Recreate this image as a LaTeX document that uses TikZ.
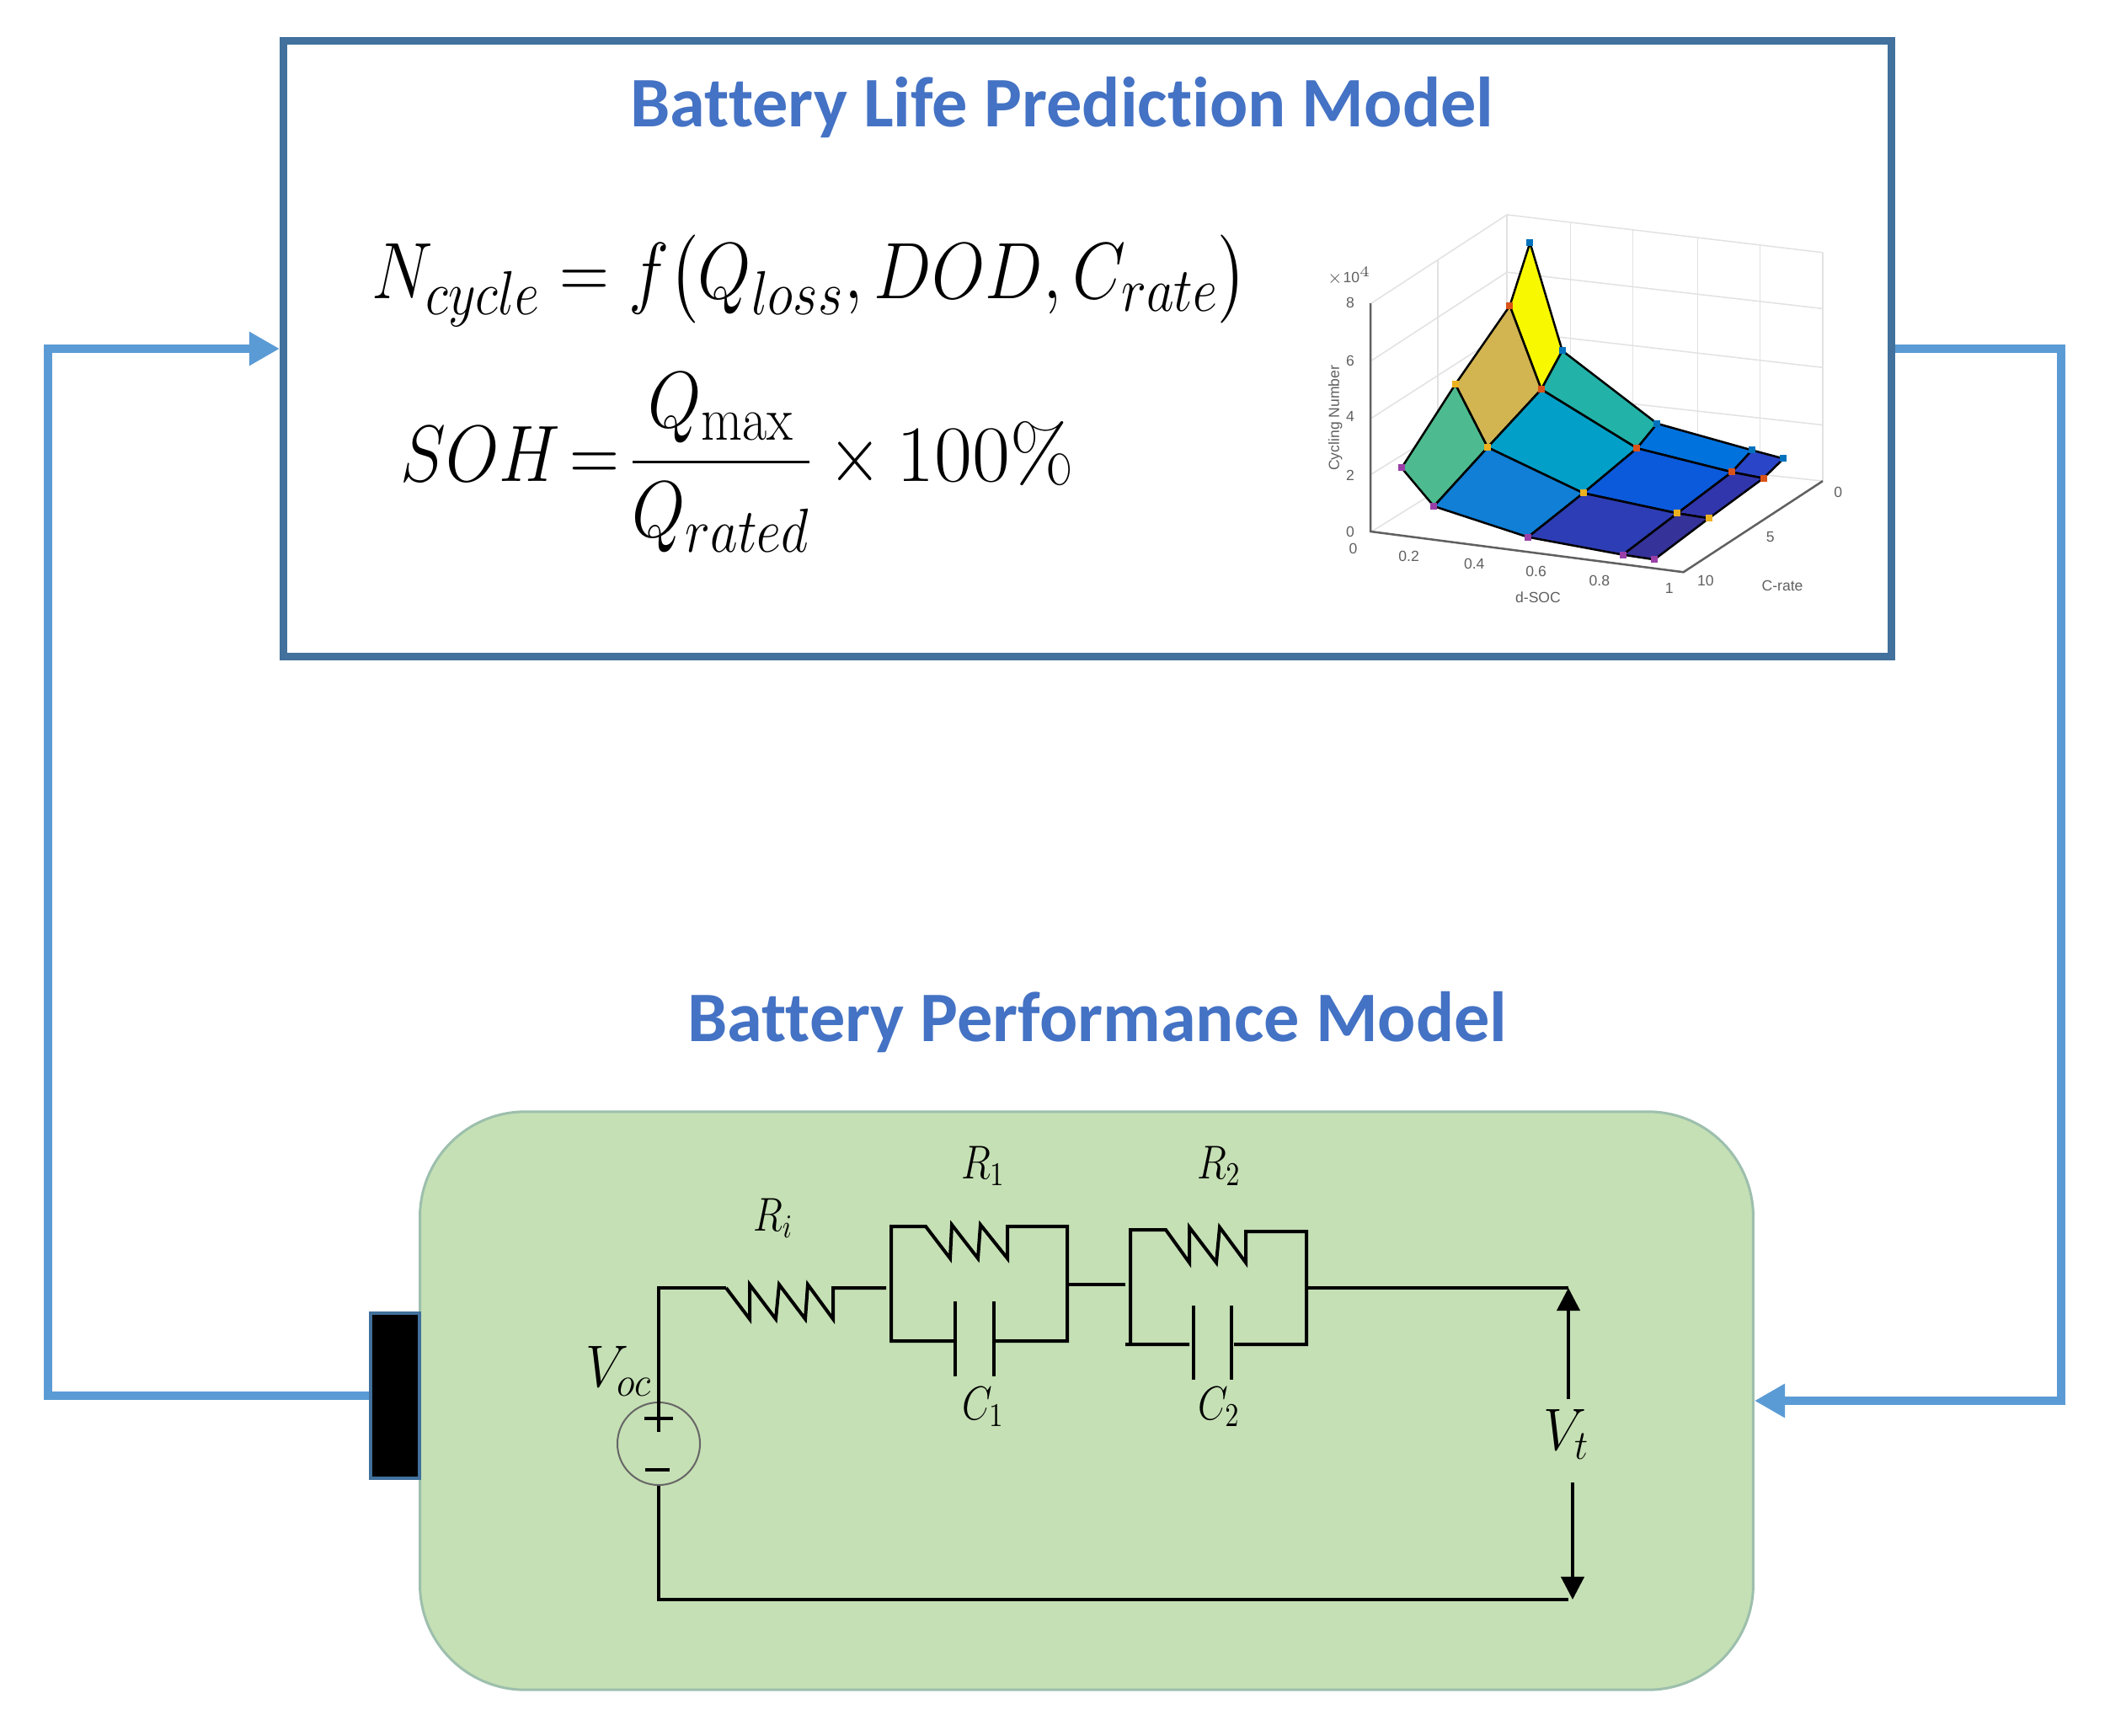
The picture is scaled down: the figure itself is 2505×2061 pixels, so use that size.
\documentclass[tikz,border=0pt]{standalone}
\usepackage{fix-cm}
\usepackage{amsmath}
\usepackage{fontspec}
\usetikzlibrary{positioning,arrows.meta}
\newfontfamily\titlefont[Ligatures=NoCommon]{Carlito}
\newfontfamily\plotfont{Liberation Sans}
\DeclareMathSizes{27}{27}{21}{16}
\definecolor{linkblue}{HTML}{5B9BD5}
\definecolor{edgeblue}{HTML}{41719C}
\definecolor{titleblue}{HTML}{4472C4}
\definecolor{cellgreen}{HTML}{C5E0B4}
\definecolor{gridgray}{HTML}{E2E2E2}
\definecolor{axisgray}{HTML}{606060}
\definecolor{fya}{HTML}{F8F800}
\definecolor{fyb}{HTML}{22B2A8}
\definecolor{fyc}{HTML}{0072DD}
\definecolor{fyd}{HTML}{2B45C8}
\definecolor{fma}{HTML}{D2B450}
\definecolor{fmb}{HTML}{02A0C8}
\definecolor{fmc}{HTML}{0B5ADC}
\definecolor{fmd}{HTML}{3236AC}
\definecolor{fla}{HTML}{4DBB8F}
\definecolor{flb}{HTML}{107FD5}
\definecolor{flc}{HTML}{2D3DB5}
\definecolor{fld}{HTML}{353299}
\definecolor{mkblue}{HTML}{0072BD}
\definecolor{mkred}{HTML}{D95319}
\definecolor{mkyellow}{HTML}{EDB120}
\definecolor{mkpurple}{HTML}{9A3FA8}
\tikzset{
    linkline/.style={line width=0.1cm, linkblue},
    linkarrow/.style={linkline, -{Triangle[length=0.36cm, width=0.38cm]}},
    wire/.style={line width=0.04cm, black},
    voltarrow/.style={wire, -{Triangle[length=0.27cm, width=0.27cm]}},
    modeltitle/.style={text=titleblue, font=\titlefont\bfseries\fontsize{24}{28}\selectfont},
    eqtext/.style={inner sep=0pt, anchor=base west, xscale=0.86, transform shape, font=\fontsize{27}{31}\selectfont},
    circlabel/.style={inner sep=0pt, xscale=0.82, transform shape, font=\fontsize{16}{19}\selectfont},
    voltlabel/.style={inner sep=0pt, xscale=0.92, transform shape, font=\fontsize{20}{24}\selectfont},
    plotlabel/.style={inner sep=0pt, text=axisgray, font=\plotfont\fontsize{5}{6}\selectfont}
}
\begin{document}
\begin{tikzpicture}[x=0.01cm, y=-0.01cm]
    \useasboundingbox (0, 0) rectangle (2505, 2061);

    % Model boxes
    \node[draw=edgeblue, line width=0.09cm, fill=white, minimum width=19.08cm, minimum height=7.30cm] (lifebox) at (1291, 414) {};
    \node[draw=edgeblue!30!cellgreen, line width=0.03cm, fill=cellgreen, rounded corners=1.25cm, minimum width=15.82cm, minimum height=6.86cm] (perfbox) at (1290, 1663) {};
    \node[draw=edgeblue, line width=0.04cm, fill=black, minimum width=0.58cm, minimum height=1.95cm] (batblock) at (469, 1657) {};

    \node[modeltitle] (lifetitle) at (1261, 128) {Battery Life Prediction Model};
    \node[modeltitle] (perftitle) at (1303, 1214) {Battery Performance Model};

    % Feedback loop
    \coordinate (leftbus) at (57, 1000);
    \coordinate (rightbus) at (2447, 1000);
    \draw[linkarrow] (batblock.west) -| (leftbus) |- (lifebox.west);
    \draw[linkarrow] (lifebox.east) -| (rightbus) |- (perfbox.east);

    % Equations
    \node[eqtext] (eqcycle) at (441, 355) {$N_{cycle}=f\bigl(Q_{loss},DOD,C_{rate}\bigr)$};
    \node[eqtext] (eqsoh) at (475, 572) {$SOH\mkern-2.5mu=\mkern-2.5mu\dfrac{Q_{\max}}{Q_{rated}}\times\scalebox{1.2}[1]{$100\%$}$};

    % Surface plot
    \begin{scope}[shift={(1500, 220)}, x=0.004785cm, y=-0.003333cm]
        % walls
        \foreach \a/\b/\c in {420/105/240, 625/310/440, 830/520/650, 1030/730/855, 1235/935/1055} {
            \draw[gridgray, line width=0.015cm] (268, \a) -- (603, \b) -- (1385, \c);
        }
        \foreach \x/\a/\b in {432/265/1090, 603/105/935, 760/135/960, 915/160/985, 1075/190/1005, 1230/215/1030, 1385/240/1055} {
            \draw[gridgray, line width=0.015cm] (\x, \a) -- (\x, \b);
        }
        % axes
        \coordinate (ztop) at (265, 420);
        \coordinate (zero) at (265, 1235);
        \coordinate (front) at (1040, 1380);
        \coordinate (rear) at (1385, 1055);
        \draw[axisgray, line width=0.025cm] (ztop) -- (zero) -- (front) -- (rear);
        % surface points
        \foreach \n/\x/\y in {a1/660/205, a2/740/590, a3/975/850, a4/1210/945, a5/1288/975,
                              b1/610/430, b2/688/728, b3/925/938, b4/1160/1023, b5/1238/1045,
                              c1/475/710, c2/555/935, c3/792/1098, c4/1025/1170, c5/1103/1188,
                              d1/342/1008, d2/422/1145, d3/655/1255, d4/890/1318, d5/968/1335} {
            \coordinate (\n) at (\x, \y);
        }
        % surface patches
        \foreach \p/\q/\r/\s/\f in {a1/a2/b2/b1/fya, a2/a3/b3/b2/fyb, a3/a4/b4/b3/fyc, a4/a5/b5/b4/fyd,
                                    b1/b2/c2/c1/fma, b2/b3/c3/c2/fmb, b3/b4/c4/c3/fmc, b4/b5/c5/c4/fmd,
                                    c1/c2/d2/d1/fla, c2/c3/d3/d2/flb, c3/c4/d4/d3/flc, c4/c5/d5/d4/fld} {
            \filldraw[fill=\f, draw=black, line width=0.025cm, line join=round] (\p) -- (\q) -- (\r) -- (\s) -- cycle;
        }
        % markers
        \foreach \n/\m in {a1/mkblue, a2/mkblue, a3/mkblue, a4/mkblue, a5/mkblue,
                           b1/mkred, b2/mkred, b3/mkred, b4/mkred, b5/mkred,
                           c1/mkyellow, c2/mkyellow, c3/mkyellow, c4/mkyellow, c5/mkyellow,
                           d1/mkpurple, d2/mkpurple, d3/mkpurple, d4/mkpurple, d5/mkpurple} {
            \node[fill=\m, inner sep=0pt, minimum size=0.08cm] (mk\n) at (\n) {};
        }
        % tick labels
        \foreach \n/\t/\x/\y in {z8/8/215/420, z6/6/215/625, z4/4/215/825, z2/2/215/1035, z0/0/215/1235,
                                 xa/0/222/1295, xb/0.2/360/1322, xc/0.4/522/1350, xd/0.6/675/1378, xe/0.8/832/1412, xf/1/1005/1438,
                                 ya/0/1423/1095, yb/5/1255/1255, yc/10/1095/1412} {
            \node[plotlabel] (tick\n) at (\x, \y) {\t};
        }
        \node[plotlabel] (plotexp) at (212, 325) {$\times$10$^4$};
        \node[plotlabel, rotate=90] (zname) at (178, 830) {Cycling Number};
        \node[plotlabel] (xname) at (680, 1470) {d-SOC};
        \node[plotlabel] (yname) at (1285, 1428) {C-rate};
    \end{scope}

    % Open circuit source
    \node[circle, draw=black!60, line width=0.02cm, minimum size=0.98cm, inner sep=0pt] (vsrc) at (782, 1714) {};
    \node[voltlabel] (voclab) at (735, 1628) {$V_{oc}$};
    \coordinate (vplus) at (782, 1700);
    \coordinate (vtop) at (782, 1529);
    \coordinate (vbot) at (782, 1899);
    \coordinate (vend) at (1862, 1899);
    \draw[wire] (vplus) -- (vtop) -- (862, 1529);
    \draw[wire] (765, 1684) -- (799, 1684);
    \draw[wire] (766, 1745) -- (795, 1745);
    \draw[wire] (vsrc.south) -- (vbot) -- (vend);

    % Series resistor
    \node[circlabel] (rilab) at (918, 1446) {$R_i$};
    \draw[wire] (862, 1529) -- (890, 1566) -- (890, 1525) -- (921, 1566) -- (925, 1525) -- (956, 1566) -- (959, 1525) -- (989, 1566) -- (989, 1529) -- (1052, 1529);

    % First RC pair
    \node[circlabel] (ronelab) at (1167, 1384) {$R_1$};
    \node[circlabel] (conelab) at (1167, 1670) {$C_1$};
    \draw[wire] (1134, 1592) -- (1058, 1592) -- (1058, 1456) -- (1099, 1456) -- (1128, 1494) -- (1130, 1454) -- (1161, 1494) -- (1164, 1454) -- (1196, 1494) -- (1196, 1456) -- (1267, 1456) -- (1267, 1592) -- (1180, 1592);
    \draw[wire] (1134, 1545) -- (1134, 1634);
    \draw[wire] (1180, 1545) -- (1180, 1634);

    \draw[wire] (1267, 1525) -- (1336, 1525);

    % Second RC pair
    \node[circlabel] (rtwolab) at (1447, 1384) {$R_2$};
    \node[circlabel] (ctwolab) at (1447, 1670) {$C_2$};
    \draw[wire] (1412, 1596) -- (1336, 1596) -- (1342, 1596) -- (1342, 1460) -- (1384, 1460) -- (1412, 1499) -- (1412, 1457) -- (1444, 1499) -- (1448, 1457) -- (1479, 1499) -- (1479, 1462) -- (1551, 1462) -- (1551, 1596) -- (1465, 1596);
    \draw[wire] (1417, 1550) -- (1417, 1638);
    \draw[wire] (1462, 1550) -- (1462, 1638);

    % Terminal voltage
    \coordinate (vttop) at (1862, 1529);
    \node[voltlabel] (vtlab) at (1860, 1703) {$V_t$};
    \draw[wire] (1551, 1529) -- (vttop);
    \draw[voltarrow] (1862, 1661) -- (vttop);
    \draw[voltarrow] (1867, 1760) -- (1867, 1899);
\end{tikzpicture}
\end{document}
